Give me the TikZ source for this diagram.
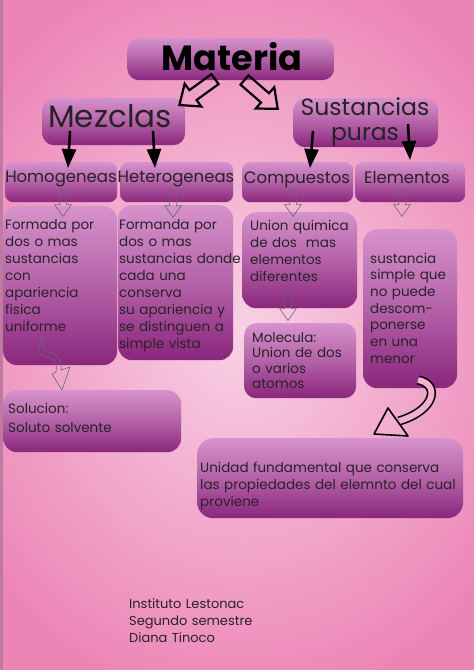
\documentclass[tikz,border=0pt]{standalone}
\usepackage{fontspec}
\setmainfont{Poppins}
\usetikzlibrary{shapes.arrows,arrows.meta}
\definecolor{bgedge}{RGB}{236,132,182}
\definecolor{bgcenter}{RGB}{248,210,228}
\definecolor{bgstrip}{RGB}{190,122,160}
\definecolor{boxtop}{RGB}{214,146,204}
\definecolor{boxmid}{RGB}{180,98,168}
\definecolor{boxbot}{RGB}{138,38,124}
\definecolor{ink}{RGB}{40,34,40}
\definecolor{arrgray}{RGB}{110,100,108}
\begin{document}
\begin{tikzpicture}[x=1pt,y=-1pt,
  panel/.style={rounded corners=#1, top color=boxtop, bottom color=boxbot, middle color=boxmid,
    draw=none, inner sep=0pt, anchor=north west},
  txt/.style={anchor=base west, inner sep=0pt, align=left, text width=280pt, text=ink,
    font=\fontsize{13.5}{17}\selectfont},
  headtxt/.style={anchor=base, inner sep=0pt, text=ink, font=\fontsize{16.5}{20}\selectfont},
  bigarrow/.style={single arrow, draw=black, line width=2.2pt, fill=none, minimum height=44pt,
    inner sep=5pt, single arrow head extend=8pt, single arrow tip angle=80, anchor=tip},
  smallarrow/.style={single arrow, draw=arrgray, line width=0.6pt, fill=none, minimum height=27pt,
    inner sep=3pt, single arrow head extend=5pt, single arrow tip angle=70, rotate=-90, anchor=tip},
  blackarrow/.style={draw=black, line width=2.6pt, -{Triangle[length=19pt,width=14pt]}}
]
\useasboundingbox (0,0) rectangle (474,670);
% background
\fill[bgedge] (0,0) rectangle (474,670);
\begin{scope}
  \clip (0,0) rectangle (474,670);
  \shade[inner color=bgcenter, outer color=bgedge] (240,330) ellipse [x radius=330pt, y radius=380pt];
\end{scope}
\fill[bgstrip] (0,0) rectangle (3,670);

% boxes
\node[panel=12pt, minimum width=207pt, minimum height=42pt] (materia) at (127,38) {};
\node[panel=12pt, minimum width=143pt, minimum height=47pt] (mezclas) at (42,98) {};
\node[panel=12pt, minimum width=145pt, minimum height=49pt] (sustancias) at (293,98) {};
\node[panel=8pt, minimum width=112pt, minimum height=40pt] (homog) at (5,162) {};
\node[panel=8pt, minimum width=113pt, minimum height=40pt] (heterog) at (120,162) {};
\node[panel=8pt, minimum width=111pt, minimum height=40pt] (compuestos) at (242,162) {};
\node[panel=8pt, minimum width=110pt, minimum height=40pt] (elementos) at (355,162) {};
\node[panel=14pt, minimum width=114pt, minimum height=159pt] (formada) at (3,206) {};
\node[panel=14pt, minimum width=115pt, minimum height=155pt] (formanda) at (118,205) {};
\node[panel=14pt, minimum width=115pt, minimum height=96pt] (union) at (242,212) {};
\node[panel=12pt, minimum width=112pt, minimum height=75pt] (molecula) at (244,323) {};
\node[panel=14pt, minimum width=94pt, minimum height=159pt] (sustancia) at (363,229) {};
\node[panel=14pt, minimum width=178pt, minimum height=62pt] (solucion) at (3,390) {};
\node[panel=16pt, minimum width=266pt, minimum height=80pt] (unidad) at (197,438) {};

% big outlined arrows
\node[bigarrow, rotate=216] (arrMz) at (178,106) {};
\node[bigarrow, rotate=-41] (arrSp) at (279,110) {};

% black arrows
\coordinate (mzA) at (70,131);  \coordinate (mzAe) at (68,168);
\coordinate (mzB) at (153,131); \coordinate (mzBe) at (155,168);
\coordinate (spA) at (313,131); \coordinate (spAe) at (310,168);
\coordinate (spB) at (408,124); \coordinate (spBe) at (410,160);
\draw[blackarrow] (mzA) -- (mzAe);
\draw[blackarrow] (mzB) -- (mzBe);
\draw[blackarrow] (spA) -- (spAe);
\draw[blackarrow] (spB) -- (spBe);

% small open arrows
\node[smallarrow] (arrHo) at (63,217) {};
\node[smallarrow] (arrHe) at (173,218) {};
\node[smallarrow] (arrCo) at (293,217) {};
\node[smallarrow] (arrEl) at (402,217) {};
\node[smallarrow] (arrMo) at (288,321) {};

% wavy arrow Formada -> Solucion
\draw[arrgray, line width=0.6pt, line join=round]
  (44,337) .. controls (34,350) and (40,357) .. (50,358)
  .. controls (56,360) and (57,364) .. (56,372) -- (52,374) -- (62,390) -- (70,367) -- (61,370)
  .. controls (62,360) and (58,354) .. (50,353) .. controls (44,352) and (42,346) .. (44,337) -- cycle;

% curved black arrow sustancia -> unidad
\coordinate (cvA) at (418,380);
\coordinate (cvB) at (399,421);
\draw[line width=1.6pt, black, double=bgcenter!55!bgedge, double distance=6pt]
  (cvA) .. controls (440,384) and (436,410) .. (cvB);
\draw[line width=1.6pt, black, fill=bgcenter!55!bgedge, line join=round]
  (388,408) -- (374,434) -- (408,436) -- cycle;

% texts
\node[anchor=base, inner sep=0pt, text=black, font=\fontsize{35}{40}\selectfont\bfseries] (tMateria) at (232,70) {Materia};
\node[anchor=base, inner sep=0pt, text=ink, font=\fontsize{31}{36}\selectfont] (tMezclas) at (110,127) {Mezclas};
\node[anchor=base, inner sep=0pt, text=ink, font=\fontsize{23.5}{25}\selectfont] (tSust) at (365,115) {Sustancias};
\node[anchor=base, inner sep=0pt, text=ink, font=\fontsize{23.5}{25}\selectfont] (tPuras) at (365,140) {puras};
\node[headtxt] (tHomog) at (61,182) {Homogeneas};
\node[headtxt] (tHeterog) at (176,182) {Heterogeneas};
\node[headtxt] (tComp) at (297,183) {Compuestos};
\node[headtxt] (tElem) at (407,183) {Elementos};

\node[txt] (tFormada) at (5,229) {Formada por\\dos o mas\\sustancias\\con\\apariencia\\fisica\\uniforme};
\node[txt] (tFormanda) at (119,229) {Formanda por\\dos o mas\\sustancias donde\\cada una\\conserva\\su apariencia y\\se distinguen a\\simple vista};
\node[txt] (tUnion) at (250,230) {Union quimica\\de dos\ \ mas\\elementos\\diferentes};
\node[txt, font=\fontsize{13.5}{15.5}\selectfont] (tMolecula) at (252,342) {Molecula:\\Union de dos\\o varios\\atomos};
\node[txt, font=\fontsize{13.5}{16.7}\selectfont] (tSustancia) at (370,263) {sustancia\\simple que\\no puede\\descom-\\ponerse\\en una\\menor};
\node[txt, font=\fontsize{13.5}{19}\selectfont] (tSolucion) at (8,413) {Solucion:\\Soluto solvente};
\node[txt] (tUnidad) at (200,472) {Unidad fundamental que conserva\\las propiedades del elemnto del cual\\proviene};

\node[txt, font=\fontsize{13}{17}\selectfont] (tFooter) at (129,608) {Instituto Lestonac\\Segundo semestre\\Diana Tinoco};
\end{tikzpicture}
\end{document}
